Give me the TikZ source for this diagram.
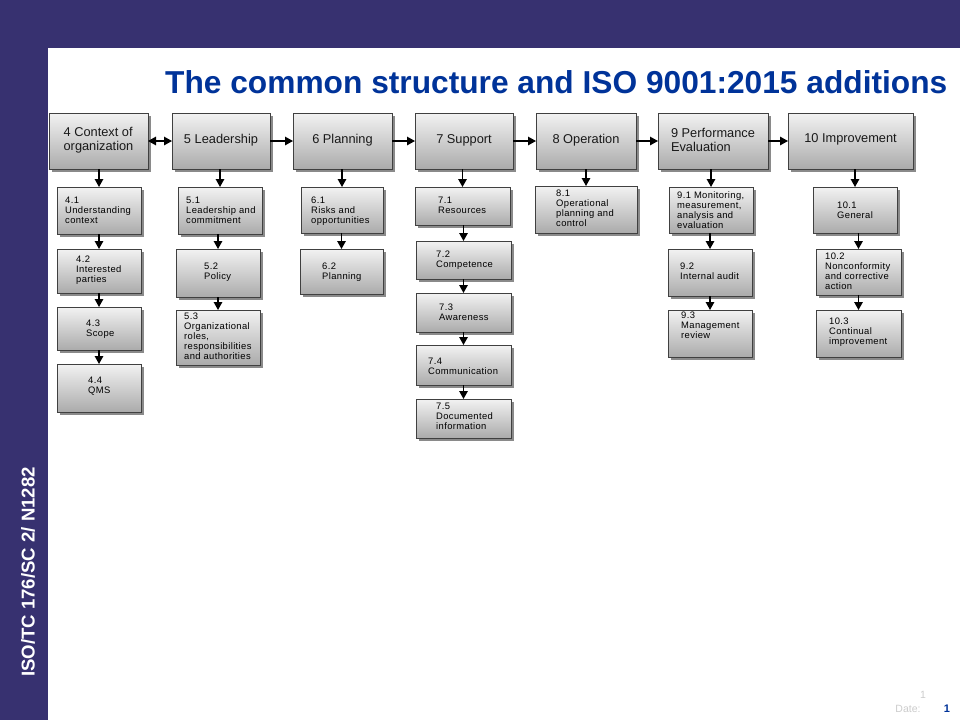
\documentclass[tikz,border=0pt]{standalone}
\usepackage{fontspec}
\setmainfont{Liberation Sans}
\newfontfamily\subfont[LetterSpace=4]{Liberation Sans}
\usetikzlibrary{arrows.meta,shadows}
\definecolor{band}{RGB}{55,49,112}
\definecolor{titleblue}{RGB}{0,51,153}
\tikzset{
  gbox/.style={draw=black!75, line width=0.7pt, top color=black!5, bottom color=black!33,
    inner sep=0pt, outer sep=0pt, anchor=north west,
    drop shadow={shadow xshift=2.5pt, shadow yshift=-2.5pt, fill=black!70, opacity=0.65}},
  mtext/.style={font=\fontsize{12.8}{13.5}\selectfont, align=left, inner sep=0pt, text=black!90},
  stext/.style={font=\subfont\fontsize{9.4}{10}\selectfont, align=left, inner sep=0pt, anchor=north west, text=black},
  arr/.style={-{Triangle[length=8pt,width=8.5pt]}, line width=1.4pt},
  dblarr/.style={{Triangle[length=8pt,width=8.5pt]}-{Triangle[length=8pt,width=8.5pt]}, line width=1.4pt},
}
\newcommand\mkbox[5]{\node[gbox, minimum width={(#4-#2)*1pt}, minimum height={(#5-#3)*1pt}] (#1) at (#2,#3) {};}
\begin{document}
\begin{tikzpicture}[x=1pt,y=-1pt]
\useasboundingbox (0,0) rectangle (960,720);
\fill[white] (0,0) rectangle (960,720);
\fill[band] (0,0) rectangle (960,48);
\fill[band] (0,0) rectangle (48,720);

\node[font=\fontsize{31.7}{36}\bfseries\selectfont, text=titleblue, anchor=base west, inner sep=0pt] (title) at (165,93) {The common structure and ISO 9001:2015 additions};

\node[rotate=90, font=\fontsize{18.6}{20}\bfseries\selectfont, text=white, inner sep=0pt] (side) at (28,572) {ISO/TC 176/SC 2/ N1282};

% main boxes
\mkbox{m4}{49}{113}{148}{169}
\mkbox{m5}{172}{113}{270}{169}
\mkbox{m6}{293}{113}{392}{169}
\mkbox{m7}{415}{113}{513}{169}
\mkbox{m8}{536}{113}{636}{169}
\mkbox{m9}{658}{113}{768}{169}
\mkbox{m10}{788}{113}{913}{169}
\node[mtext] (tm4) at ([yshift=1pt]m4.center) {4 Context of\\organization};
\node[mtext] (tm5) at ([yshift=1pt]m5.center) {5 Leadership};
\node[mtext] (tm6) at ([yshift=1pt]m6.center) {6 Planning};
\node[mtext] (tm7) at ([yshift=1pt]m7.center) {7 Support};
\node[mtext] (tm8) at ([yshift=1pt]m8.center) {8 Operation};
\node[mtext] (tm9) at ([yshift=1pt]m9.center) {9 Performance\\Evaluation};
\node[mtext] (tm10) at ([yshift=1.5pt]m10.center) {10 Improvement};

\draw[dblarr] (m4.east) -- (m5.west);
\draw[arr] (m5.east) -- (m6.west);
\draw[arr] (m6.east) -- (m7.west);
\draw[arr] (m7.east) -- (m8.west);
\draw[arr] (m8.east) -- (m9.west);
\draw[arr] (m9.east) -- (m10.west);

% sub boxes
\mkbox{s41}{57}{187}{141}{234}
\mkbox{s42}{57}{249}{141}{293}
\mkbox{s43}{57}{307}{141}{350}
\mkbox{s44}{57}{364}{141}{412}
\mkbox{s51}{178}{187}{262}{234}
\mkbox{s52}{176}{249}{260}{297}
\mkbox{s53}{176}{310}{260}{365}
\mkbox{s61}{301}{187}{383}{233}
\mkbox{s62}{300}{249}{383}{294}
\mkbox{s71}{415}{187}{510}{225}
\mkbox{s72}{416}{241}{511}{279}
\mkbox{s73}{416}{293}{511}{332}
\mkbox{s74}{416}{345}{511}{385}
\mkbox{s75}{416}{399}{511}{438}
\mkbox{s81}{535}{186}{637}{233}
\mkbox{s91}{669}{187}{753}{233}
\mkbox{s92}{668}{249}{752}{296}
\mkbox{s93}{668}{310}{752}{357}
\mkbox{s101}{813}{187}{897}{233}
\mkbox{s102}{816}{249}{901}{295}
\mkbox{s103}{816}{310}{901}{357}

\node[stext] (ts41) at (65,197) {4.1\\Understanding\\context};
\node[stext] (ts42) at (76,256) {4.2\\Interested\\parties};
\node[stext] (ts43) at (86,320) {4.3\\Scope};
\node[stext] (ts44) at (88,377) {4.4\\QMS};
\node[stext] (ts51) at (186,197) {5.1\\Leadership and\\commitment};
\node[stext] (ts52) at (204,263) {5.2\\Policy};
\node[stext] (ts53) at (184,313) {5.3\\Organizational\\roles,\\responsibilities\\and authorities};
\node[stext] (ts61) at (311,197) {6.1\\Risks and\\opportunities};
\node[stext] (ts62) at (322,263) {6.2\\Planning};
\node[stext] (ts71) at (438,197) {7.1\\Resources};
\node[stext] (ts72) at (436,251) {7.2\\Competence};
\node[stext] (ts73) at (439,304) {7.3\\Awareness};
\node[stext] (ts74) at (428,358) {7.4\\Communication};
\node[stext] (ts75) at (436,403) {7.5\\Documented\\information};
\node[stext] (ts81) at (556,190) {8.1\\Operational\\planning and\\control};
\node[stext] (ts91) at (677,191) {9.1 Monitoring,\\measurement,\\analysis and\\evaluation};
\node[stext] (ts92) at (680,263) {9.2\\Internal audit};
\node[stext] (ts93) at (681,312) {9.3\\Management\\review};
\node[stext] (ts101) at (837,202) {10.1\\General};
\node[stext] (ts102) at (825,253) {10.2\\Nonconformity\\and corrective\\action};
\node[stext] (ts103) at (829,318) {10.3\\Continual\\improvement};

% vertical arrows
\draw[arr] (m4.south -| s41.north) -- (s41.north);
\draw[arr] (s41.south -| s42.north) -- (s42.north);
\draw[arr] (s42.south -| s43.north) -- (s43.north);
\draw[arr] (s43.south -| s44.north) -- (s44.north);
\draw[arr] (m5.south -| s51.north) -- (s51.north);
\draw[arr] (s51.south -| s52.north) -- (s52.north);
\draw[arr] (s52.south -| s53.north) -- (s53.north);
\draw[arr] (m6.south -| s61.north) -- (s61.north);
\draw[arr] (s61.south -| s62.north) -- (s62.north);
\draw[arr] (m7.south -| s71.north) -- (s71.north);
\draw[arr] (s71.south -| s72.north) -- (s72.north);
\draw[arr] (s72.south -| s73.north) -- (s73.north);
\draw[arr] (s73.south -| s74.north) -- (s74.north);
\draw[arr] (s74.south -| s75.north) -- (s75.north);
\draw[arr] (m8.south -| s81.north) -- (s81.north);
\draw[arr] (m9.south -| s91.north) -- (s91.north);
\draw[arr] (s91.south -| s92.north) -- (s92.north);
\draw[arr] (s92.south -| s93.north) -- (s93.north);
\draw[arr] (m10.south -| s101.north) -- (s101.north);
\draw[arr] (s101.south -| s102.north) -- (s102.north);
\draw[arr] (s102.south -| s103.north) -- (s103.north);

% footer
\node[font=\fontsize{10.5}{12}\selectfont, text=black!20, inner sep=0pt] (pg) at (923,695) {1};
\node[font=\fontsize{10.5}{12}\selectfont, text=black!20, inner sep=0pt] (date) at (908,709) {Date:};
\node[font=\fontsize{11}{12}\bfseries\selectfont, text=titleblue, inner sep=0pt] (pn) at (947,709) {1};
\end{tikzpicture}
\end{document}
